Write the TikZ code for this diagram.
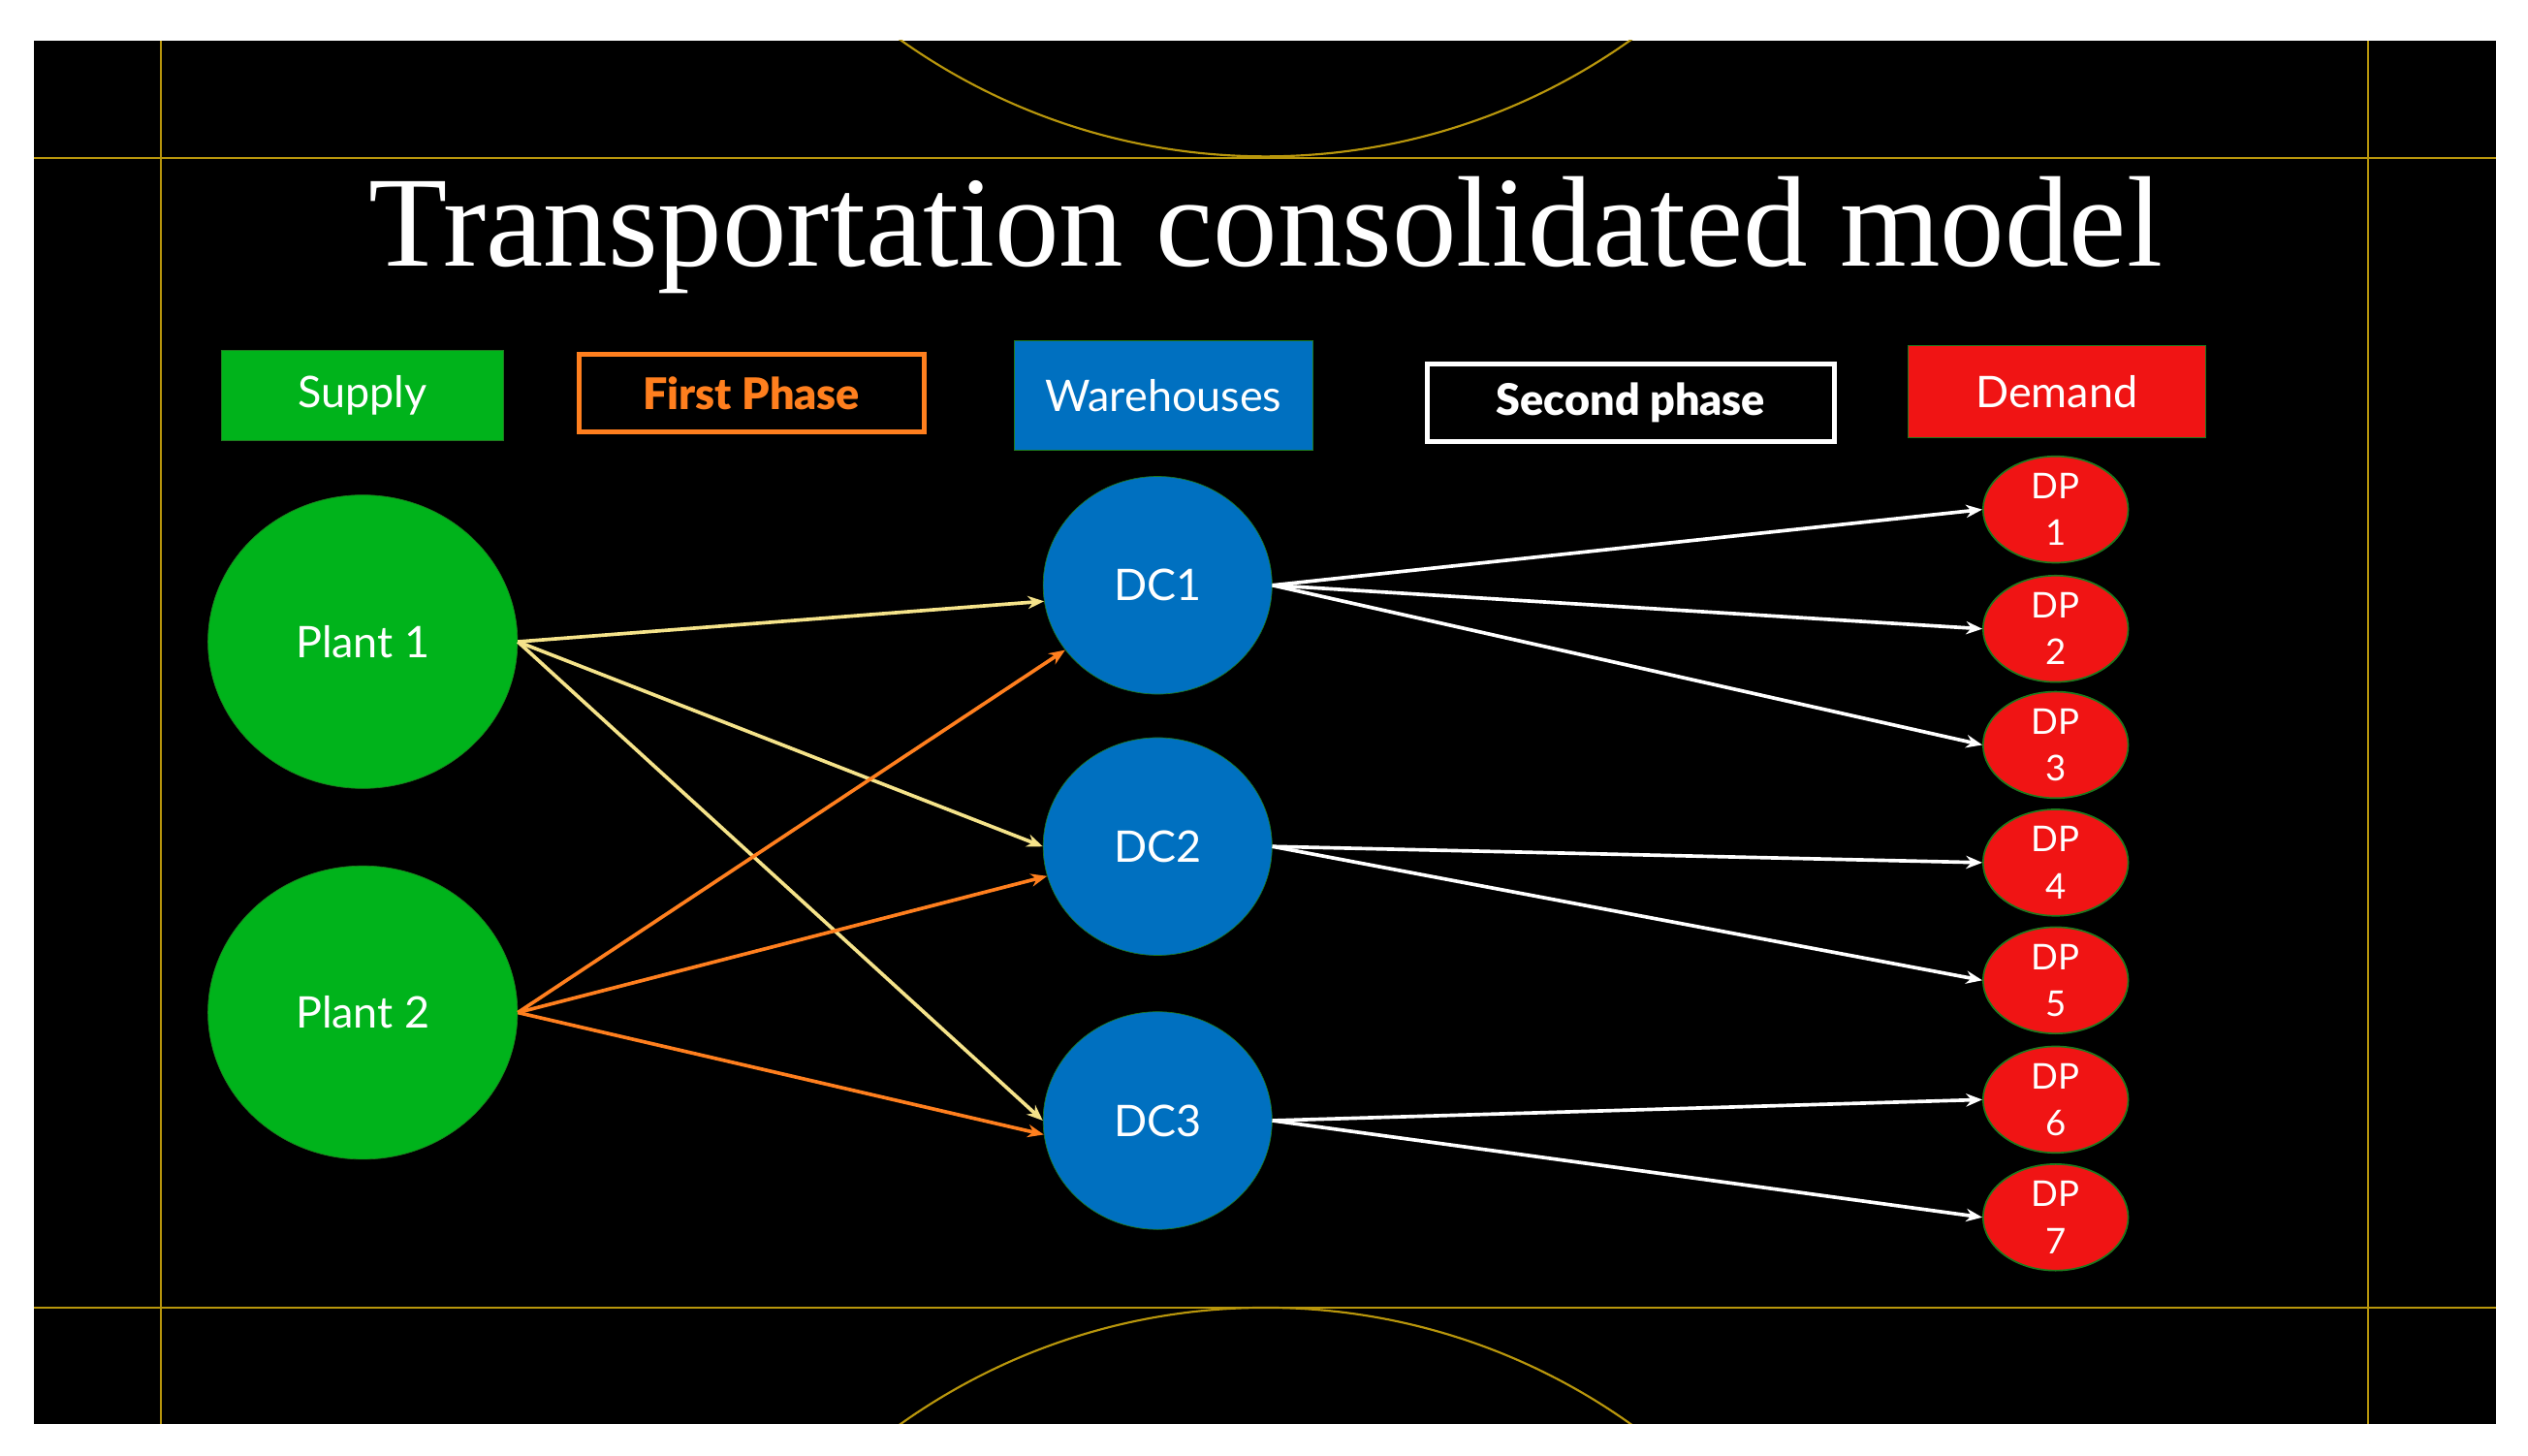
\documentclass[tikz,border=0pt]{standalone}
\usepackage{fontspec}
\setmainfont{Liberation Serif}
\setsansfont{Lato}
\newfontfamily\heavyfont{Lato Black}
\usetikzlibrary{arrows.meta,shapes.geometric}
\definecolor{gld}{HTML}{B8960C}
\definecolor{grn}{HTML}{00B31B}
\definecolor{blu}{HTML}{0070C0}
\definecolor{rd}{HTML}{F01414}
\definecolor{org}{HTML}{FF7F1E}
\definecolor{ylw}{HTML}{F5E38A}
\definecolor{dg}{HTML}{1E7A1E}
\tikzset{
  plant/.style={ellipse,draw=dg,fill=grn,minimum width=192pt,minimum height=182pt,text=white,font=\sffamily\fontsize{27}{30}\selectfont},
  dc/.style={ellipse,draw=dg,fill=blu,minimum width=142pt,minimum height=135pt,text=white,font=\sffamily\fontsize{27}{30}\selectfont},
  dp/.style={ellipse,draw=dg,line width=1pt,fill=rd,minimum width=90pt,minimum height=66pt,inner sep=0pt,text=white,align=center,font=\sffamily\fontsize{22}{29}\selectfont},
  leg/.style={anchor=north west,inner sep=0pt,font=\sffamily\fontsize{27}{30}\selectfont},
  ya/.style={draw=ylw,line width=2.2pt,-{Stealth[length=10pt,width=8pt]}},
  oa/.style={draw=org,line width=2.2pt,-{Stealth[length=10pt,width=8pt]}},
  wa/.style={draw=white,line width=2.2pt,-{Stealth[length=10pt,width=8pt]}},
  gl/.style={draw=gld,line width=1.3pt}
}
\begin{document}
\begin{tikzpicture}[x=1pt,y=-1pt]
\useasboundingbox (0,0) rectangle (1568,903);
\fill[white] (0,0) rectangle (1568,903);
\fill[black] (21,25) rectangle (1548,883);
\begin{scope}
\clip (21,25) rectangle (1548,883);
\draw[gl] (785,-294) circle (391);
\draw[gl] (785,1202) circle (391);
\end{scope}
\draw[gl] (21,98) -- (1548,98);
\draw[gl] (21,811) -- (1548,811);
\draw[gl] (100,25) -- (100,883);
\draw[gl] (1469,25) -- (1469,883);
\node[text=white,font=\fontsize{80}{82}\selectfont,anchor=base] (title) at (785,165) {Transportation consolidated model};
% legend
\node[leg,fill=grn,minimum width=175pt,minimum height=56pt,text=white,draw=dg] (sup) at (137,217) {Supply};
\node[leg,draw=org,line width=3pt,minimum width=214pt,minimum height=48pt,text=org,font=\heavyfont\fontsize{27}{30}\selectfont] (fp) at (357.5,218.5) {First Phase};
\node[leg,fill=blu,draw=dg,minimum width=185pt,minimum height=68pt,text=white] (wh) at (629,211) {Warehouses};
\node[leg,draw=white,line width=3pt,minimum width=253pt,minimum height=48pt,text=white,font=\heavyfont\fontsize{27}{30}\selectfont] (sp) at (883.5,224.5) {Second phase};
\node[leg,fill=rd,draw=dg,minimum width=185pt,minimum height=57pt,text=white] (dem) at (1183,214) {Demand};
% nodes
\node[plant] (p1) at (225,398) {Plant 1};
\node[plant] (p2) at (225,628) {Plant 2};
\node[dc] (dc1) at (718,363) {DC1};
\node[dc] (dc2) at (718,525) {DC2};
\node[dc] (dc3) at (718,695) {DC3};
\foreach \i/\y in {1/316,2/390,3/462,4/535,5/608,6/682,7/755}
  \node[dp] (dp\i) at (1275,\y) {DP\\\i};
% first phase
\draw[ya] (p1.east) -- (dc1.188);
\draw[ya] (p1.east) -- (dc2.west);
\draw[ya] (p1.east) -- (dc3.west);
\draw[oa] (p2.east) -- (dc1.215);
\draw[oa] (p2.east) -- (dc2.195);
\draw[oa] (p2.east) -- (dc3.187);
% second phase
\draw[wa] (dc1.east) -- (dp1.west);
\draw[wa] (dc1.east) -- (dp2.west);
\draw[wa] (dc1.east) -- (dp3.west);
\draw[wa] (dc2.east) -- (dp4.west);
\draw[wa] (dc2.east) -- (dp5.west);
\draw[wa] (dc3.east) -- (dp6.west);
\draw[wa] (dc3.east) -- (dp7.west);
\end{tikzpicture}
\end{document}
